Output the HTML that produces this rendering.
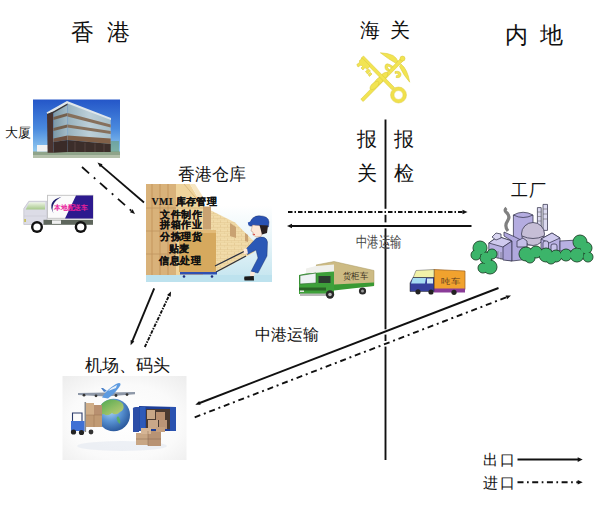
<!DOCTYPE html>
<html><head><meta charset="utf-8">
<style>
html,body{margin:0;padding:0;background:#fff;}
body{width:600px;height:515px;position:relative;overflow:hidden;font-family:"Liberation Serif",serif;color:#111;}
.t{position:absolute;white-space:nowrap;line-height:1;}
svg{position:absolute;left:0;top:0;}
</style></head><body>
<!-- bld -->
<svg width="600" height="515" viewBox="0 0 600 515">
<defs>
<linearGradient id="sky" x1="0" y1="0" x2="0" y2="1"><stop offset="0" stop-color="#2456c8"/><stop offset="0.5" stop-color="#4a8ade"/><stop offset="0.85" stop-color="#8cc4ee"/><stop offset="1" stop-color="#b0d8f0"/></linearGradient>
<linearGradient id="glassR" x1="0" y1="0" x2="1" y2="0"><stop offset="0" stop-color="#98b2be"/><stop offset="0.5" stop-color="#bccfd8"/><stop offset="1" stop-color="#a8c0ca"/></linearGradient>
<linearGradient id="glassL" x1="0" y1="0" x2="1" y2="0"><stop offset="0" stop-color="#7c98a6"/><stop offset="1" stop-color="#a2bac6"/></linearGradient>
</defs>
<rect x="33" y="99.5" width="87" height="58.5" fill="url(#sky)"/>
<rect x="33" y="151.5" width="87" height="6.5" fill="#8fa48a"/>
<rect x="33" y="155" width="87" height="3" fill="#b4c0aa"/>
<rect x="37" y="145" width="13" height="6.5" fill="#f2f2f2"/>
<rect x="100" y="141" width="19" height="11" fill="#6a9a6a" opacity="0.55"/>
<!-- dark tower left -->
<polygon points="47,113 53.4,110.5 53.4,152.8 47.6,152.8" fill="#4a3430"/>
<!-- left face glass -->
<polygon points="53.4,110.5 67.4,102 67.4,140 53.4,142" fill="url(#glassL)"/>
<polygon points="53.4,117 67.4,113 67.4,116 53.4,120" fill="#74604e"/>
<polygon points="53.4,128 67.4,124.5 67.4,127.5 53.4,131" fill="#74604e"/>
<polygon points="53.4,138.5 67.4,135.5 67.4,140 53.4,142" fill="#6e5040"/>
<polygon points="53.4,142 67.4,140 67.4,152 53.4,152.8" fill="#3a2b28"/>
<!-- right face -->
<polygon points="67.4,102 110.7,118.9 110.7,144 67.4,140" fill="url(#glassR)"/>
<polygon points="67.4,113 110.7,124.5 110.7,127.5 67.4,116.5" fill="#86705c"/>
<polygon points="67.4,124.5 110.7,131 110.7,134 67.4,127.5" fill="#86705c"/>
<polygon points="67.4,135.5 110.7,138.5 110.7,144 67.4,140" fill="#806048"/>
<polygon points="67.4,140 110.7,144 110.7,152 67.4,152" fill="#3c2e2a"/>
<path d="M75,142 v10 M85,143 v9 M95,143.5 v8.5 M104,144 v8" stroke="#5a4a44" stroke-width="0.8"/>
<!-- roof edge -->
<polygon points="46.5,112.5 67,101 111,118 111,120 67.4,103.5 53.4,111.5 47.5,114" fill="#dfe6ea"/>
<polygon points="47.5,114 53.4,111.5 67.4,103.5 67.4,105 53.4,113 47.5,115.5" fill="#3a3638"/>
</svg>
<!-- wh -->
<svg width="600" height="515" viewBox="0 0 600 515">
<defs>
<linearGradient id="whbg" x1="0" y1="0" x2="0" y2="1"><stop offset="0" stop-color="#ffffff"/><stop offset="0.22" stop-color="#ffffff"/><stop offset="0.6" stop-color="#e6f4f8"/><stop offset="1" stop-color="#c2e4ef"/></linearGradient>
<pattern id="brick" width="7" height="4.5" patternUnits="userSpaceOnUse"><rect width="7" height="4.5" fill="#f2dcaa"/><path d="M0,4.5 H7 M3.5,0 V2.25 M0,2.25 H7 M0,2.25 V4.5" stroke="#dcc088" stroke-width="0.5"/></pattern>
</defs>
<rect x="146" y="184" width="126" height="98" fill="url(#whbg)"/>
<!-- receding wall of boxes -->
<polygon points="203,206.5 235,222.6 254.5,242 254.5,252 222,270 203,272" fill="url(#brick)"/>
<rect x="203" y="206.5" width="8" height="23" fill="#c9a272"/>
<polygon points="230,223 236,227 236,238 230,236" fill="#c9a272"/>
<polygon points="245,233 248,235 248,242 245,241" fill="#c9a272"/>
<!-- big left stack -->
<rect x="146" y="184" width="30" height="92" fill="#d9b27a"/>
<path d="M152,184 V276 M160,184 V276 M168,184 V276" stroke="#c89c62" stroke-width="1.2"/>
<path d="M146,208 H176 M146,231 H176 M146,254 H176" stroke="#bf9560" stroke-width="0.8"/>
<polygon points="176,184 190,184 203,206.5 203,276 176,276" fill="#efd49c"/>
<polygon points="190,184 195,184 205,200 203,206.5" fill="#f6e6c2"/>
<path d="M176,208 H203 M176,231 H203 M176,254 H203" stroke="#d2b078" stroke-width="0.8"/>
<path d="M184,184 L203,206.5" stroke="#c8a46c" stroke-width="0.6"/>
<!-- front box on cart -->
<rect x="179" y="230" width="37" height="42" fill="#d6a95e"/>
<rect x="179" y="230" width="37" height="3" fill="#e2bb78"/>
<!-- floor -->
<rect x="146" y="275" width="126" height="7" fill="#bde2ee"/>
<!-- cart -->
<rect x="180" y="272" width="37" height="2.5" fill="#3050b0"/>
<circle cx="184" cy="276.5" r="1.3" fill="#203080"/><circle cx="212" cy="276.5" r="1.3" fill="#203080"/>
<path d="M215,266 L245,251 M216,272 L246,256" stroke="#2a3040" stroke-width="1.3"/>
<!-- worker -->
<path d="M249.5,226 Q250.5,216 259,215.8 Q268.5,215.8 269,222 L268.5,227 Z" fill="#2952b3" stroke="#1a2a60" stroke-width="0.4"/>
<path d="M247.8,222.5 L253,220.5 L253,224.5 L248.5,225.5 Z" fill="#2952b3"/>
<path d="M252.5,225 L251,231 L253,232 L252.8,235 Q256,238 261,236.5 L264,226 Z" fill="#fde8d8" stroke="#b07a60" stroke-width="0.4"/>
<path d="M253,234.2 L255,234.5" stroke="#d03030" stroke-width="0.9"/>
<path d="M259.5,225 L268,225.5 L267,233 L262,234.5 Z" fill="#2a2020"/>
<path d="M256,238.5 Q266,234.5 267.5,242 L267,256 L258,273 L251,271.5 L258,258 L256,250 L247.5,254.5 L244.8,250.3 Z" fill="#2a58b6" stroke="#1a2a60" stroke-width="0.4"/>
<path d="M243.5,249 L247,248.5 L248,253.5 L244,254 Z" fill="#fde8d8"/>
<path d="M250.5,271.5 L255,272.5 L254,276.5 L250,276 Z" fill="#fde8d8"/>
<path d="M244.5,276.5 L253.8,276 L254,280.5 L244.5,280.5 Q243.8,278 244.5,276.5 Z" fill="#1a1a1a"/>
</svg>
<!-- emb -->
<svg width="600" height="515" viewBox="0 0 600 515">
<g fill="#f2e452" stroke="#dccb3e" stroke-width="0.6" stroke-linejoin="round">
<!-- wings -->
<path d="M380.4,52.8 Q388,53 393,55.5 Q397,58 398,61.5 L395.5,63 Q389,59.5 380.4,52.8 Z"/>
<path d="M401,64 Q407.5,69 409.7,82.2 Q404,76 399.5,66.5 Z"/>
<!-- caduceus staff -->
<path d="M401.5,57.5 L404,60 L363.2,101.5 L360.8,99.2 Z"/>
<circle cx="402.5" cy="58.6" r="2.5"/>
<!-- snakes upper swirls -->
<path d="M393,66.5 Q386,61.5 385,66 Q384.5,71 389.5,71 L389,69 Q387,68.6 387.3,66.8 Q388.5,65 391.5,68 Z"/>
<path d="M395,71.5 Q400,70.5 401,74 Q401,78.5 396,77.5 L396.5,75.5 Q398.5,75.8 398.3,74.2 Q397.5,72.5 395,73.5 Z"/>
<!-- coils -->
<ellipse cx="383.5" cy="76.5" rx="5.5" ry="2.6" transform="rotate(-42 383.5 76.5)"/>
<ellipse cx="379" cy="81" rx="5.8" ry="2.8" transform="rotate(-42 379 81)"/>
<ellipse cx="374.5" cy="85.5" rx="5.5" ry="2.7" transform="rotate(-42 374.5 85.5)"/>
<!-- key shaft -->
<path d="M361,58.2 L363.5,56 L394.5,87.5 L392,89.8 Z"/>
<!-- key bit teeth -->
<path d="M359.5,60.5 L362.5,58.2 L370,66 L367,69.5 L365,67.5 L363,70 L361,68 L362.5,66.5 L361,65 L358,67 L356.8,64.5 L359.5,62.5 Z"/>
<path d="M365.5,71.5 L368.5,69 L370.5,71 L367.5,74 Z"/>
<path d="M368,74.5 L370.5,72.5 L372,74 L369.5,76.5 Z"/>
</g>
<circle cx="398.5" cy="95" r="6.2" fill="none" stroke="#f0e04c" stroke-width="3.4"/>
<circle cx="398.5" cy="95" r="8" fill="none" stroke="#dccb3e" stroke-width="0.5"/>
<circle cx="398.5" cy="95" r="4.4" fill="none" stroke="#dccb3e" stroke-width="0.4"/>
</svg>
<!-- gtrk -->
<svg width="600" height="515" viewBox="0 0 600 515">
<polygon points="316,265 334,261.5 374,270.5 374,285.5 334,289" fill="#cdbb84" stroke="#a89860" stroke-width="0.5"/>
<polygon points="306,268.5 316,266 334,264.5 334,272 306,274" fill="#f0f0ec"/>
<polygon points="299,275 306,273.5 334,271.5 334,293 326,295.5 299,294" fill="#3ea03a"/>
<polygon points="300,275.5 316,273 316,283 300,284" fill="#eef2f4" stroke="#2a6a2a" stroke-width="0.6"/>
<rect x="318.5" y="276" width="12" height="7" fill="#2c3a30"/>
<rect x="299" y="287.5" width="27" height="3" fill="#2a6226"/>
<rect x="300" y="290.5" width="4" height="1.5" fill="#e8e8e8"/>
<polygon points="334,284.5 374,282.5 374,286 334,290.5" fill="#3a9a34"/>
<rect x="300" y="293.5" width="30" height="2.5" fill="#b8b8b8"/>
<circle cx="330" cy="294.5" r="4.2" fill="#2a2a2a"/><circle cx="330" cy="294.5" r="1.8" fill="#bbb"/>
<circle cx="362.5" cy="291" r="3.6" fill="#2a2a2a"/><circle cx="362.5" cy="291" r="1.5" fill="#999"/>
<text x="343" y="279" font-size="8.5" fill="#3a3020" font-family="Liberation Serif" textLength="25" lengthAdjust="spacingAndGlyphs">货柜车</text>
</svg>
<!-- otrk -->
<svg width="600" height="515" viewBox="0 0 600 515">
<polygon points="434,269.5 465,271 465,289.5 434,289.5" fill="#f1a22e" stroke="#9a6020" stroke-width="0.7"/>
<rect x="434" y="288.5" width="31" height="4" fill="#8a3c98"/>
<polygon points="416,270.5 434,269.5 434,278 413,278" fill="#f2f2a8" stroke="#555" stroke-width="0.5"/>
<polygon points="413,277.5 434,277.5 434,291.5 410,291.5 410,283" fill="#37409c" stroke="#222" stroke-width="0.5"/>
<polygon points="413,278 426,278 425,283.5 411,283.5" fill="#a6dcf2"/>
<rect x="427" y="278.5" width="6" height="5" fill="#cfe8f4"/>
<circle cx="418" cy="291.8" r="2.6" fill="#222"/><circle cx="431" cy="292" r="2.6" fill="#222"/><circle cx="454" cy="292.3" r="2.6" fill="#222"/>
<text x="441" y="283.5" font-size="8" fill="#5a3a20" font-family="Liberation Serif" textLength="19" lengthAdjust="spacingAndGlyphs">吨车</text>
</svg>
<!-- fac -->
<svg width="600" height="515" viewBox="0 0 600 515">
<g stroke="#34344c" stroke-width="0.75" stroke-linejoin="round">
<path d="M508,231 Q504,226 507.5,221 Q511,216 506,212 Q504,210 506.5,208" fill="none" stroke="#808080" stroke-width="3.2"/>
<!-- chimneys -->
<rect x="537.4" y="207.6" width="3.8" height="23" fill="#dcdaf0"/>
<rect x="543" y="204.4" width="4.5" height="26" fill="#dcdaf0"/>
<path d="M537.4,212 h3.8 M537.4,216.5 h3.8 M537.4,221 h3.8 M543,209 h4.5 M543,214 h4.5 M543,219 h4.5" stroke="#666" stroke-width="0.6"/>
<!-- tall cylinder -->
<path d="M513.4,215 Q523,209.5 533,215 L533,245 L513.4,245 Z" fill="#b4ace0"/>
<path d="M513.4,215 Q523,220 533,215" fill="none"/>
<!-- dome -->
<circle cx="533" cy="234" r="11.5" fill="#c6bed6"/>
<path d="M522,236 Q533,241 544,236" fill="none"/>
<!-- left complex -->
<path d="M488.8,243 L498,236.5 L512,241 L512,261 L488.8,256 Z" fill="#b8b0e2"/>
<path d="M488.8,243 L498,236.5 L512,241 L503,247 Z" fill="#cfcaee"/>
<path d="M492,249 v8 M495,250 v8 M498,251 v8 M501,252 v8" stroke="#555" stroke-width="0.5"/>
<path d="M503,247 L512,241 L512,261 L503,260 Z" fill="#aaa2d8"/>
<path d="M492,237 L496,233 L501,234 L501,238 L496,240 Z" fill="#d8d4f0"/>
<path d="M504,232 L515,237 L526.7,243 L526.7,259.3 L512,261 L512,241 L504,236 Z" fill="#b0a8de"/>
<path d="M517,241 L523,238 L527,241 L527,247 L517,247 Z" fill="#c4bee8"/>
<!-- right complex -->
<path d="M541,239 L552,233 L560,238 L560,251 L541,251 Z" fill="#b8b0e2"/>
<path d="M541,239 L552,233 L560,238 L549,243 Z" fill="#cfcaee"/>
<rect x="543" y="241" width="5.5" height="11" rx="2" fill="#c8c2ea"/>
<rect x="551" y="244" width="6" height="8" rx="2" fill="#c8c2ea"/>
<path d="M560,241 L578,240 L578,251 L560,251 Z" fill="#b8b0e2"/>
</g>
<g fill="#3cb46a" stroke="#1a3a22" stroke-width="0.9">
<circle cx="480" cy="248" r="7"/><circle cx="476" cy="255" r="5"/><circle cx="486" cy="258" r="6"/><circle cx="490" cy="267" r="7"/><circle cx="483" cy="268" r="5"/><circle cx="492" cy="254" r="5"/>
<circle cx="526" cy="254" r="7"/><circle cx="536" cy="252" r="6"/><circle cx="546" cy="255" r="7"/><circle cx="556" cy="256" r="6"/><circle cx="566" cy="255" r="6"/><circle cx="530" cy="258" r="5"/><circle cx="551" cy="259" r="5"/>
<circle cx="580" cy="242" r="7"/><circle cx="586" cy="248" r="6"/><circle cx="577" cy="255" r="7"/><circle cx="588" cy="257" r="5"/>
</g>
<g fill="#3cb46a">
<circle cx="480" cy="248" r="6.3"/><circle cx="476" cy="255" r="4.3"/><circle cx="486" cy="258" r="5.3"/><circle cx="490" cy="267" r="6.3"/><circle cx="483" cy="268" r="4.3"/><circle cx="492" cy="254" r="4.3"/>
<circle cx="526" cy="254" r="6.3"/><circle cx="536" cy="252" r="5.3"/><circle cx="546" cy="255" r="6.3"/><circle cx="556" cy="256" r="5.3"/><circle cx="566" cy="255" r="5.3"/><circle cx="530" cy="258" r="4.3"/><circle cx="551" cy="259" r="4.3"/>
<circle cx="580" cy="242" r="6.3"/><circle cx="586" cy="248" r="5.3"/><circle cx="577" cy="255" r="6.3"/><circle cx="588" cy="257" r="4.3"/>
</g>
</svg>
<!-- air -->
<svg width="600" height="515" viewBox="0 0 600 515">
<defs>
<radialGradient id="airbg" cx="0.5" cy="0.55" r="0.75"><stop offset="0" stop-color="#ffffff"/><stop offset="0.6" stop-color="#fafafa"/><stop offset="1" stop-color="#ececec"/></radialGradient>
<radialGradient id="globe" cx="0.4" cy="0.35" r="0.75"><stop offset="0" stop-color="#b4d8f4"/><stop offset="0.45" stop-color="#5a94d4"/><stop offset="1" stop-color="#1f4a8e"/></radialGradient>
<linearGradient id="cont" x1="0" y1="0" x2="1" y2="1"><stop offset="0" stop-color="#4aa848"/><stop offset="1" stop-color="#c8d070"/></linearGradient>
</defs>
<rect x="62.5" y="376" width="124" height="84" fill="url(#airbg)"/>
<!-- reflection -->
<ellipse cx="122" cy="446" rx="45" ry="5" fill="#e8ecf2" opacity="0.8"/>
<!-- airplane -->
<path d="M78,393 L135,392 L135,394.2 L106,396.5 L78,395 Z" fill="#8e98a8"/>
<circle cx="84" cy="395.2" r="1.4" fill="#333"/><circle cx="96" cy="395.8" r="1.4" fill="#333"/><circle cx="116" cy="395.5" r="1.4" fill="#333"/><circle cx="127" cy="394.6" r="1.4" fill="#333"/>
<path d="M102,397.5 Q106,390 116,384 Q121,381.5 120.5,385 Q117,391.5 108,398.5 Z" fill="#5c9ae0"/>
<path d="M108,391 Q112,387 117,385 L116,388 Z" fill="#e8f0f8"/>
<path d="M104,392 L101,388 L103,388 L107,391 Z" fill="#4a80c8"/>
<!-- globe -->
<circle cx="113.7" cy="415" r="16.3" fill="url(#globe)"/>
<path d="M99,410 Q101,401 110,399.5 Q119,399 123,404 Q125,410 120,412 Q116,416 112,413 Q107,417 104,414 Q100,415 99,410 Z" fill="url(#cont)" opacity="0.95"/>
<path d="M118,416 Q121,419 120,424 Q117,422 116.5,418 Z" fill="#5ab450" opacity="0.8"/>
<!-- forklift -->
<rect x="84.5" y="402" width="1.6" height="30" fill="#8a8a8a"/>
<rect x="86" y="403" width="8" height="12" fill="#d0ae88"/>
<rect x="86" y="415" width="16" height="12" fill="#c09a74"/>
<rect x="94" y="405" width="8" height="10" fill="#b89070"/>
<path d="M86,415 h16 M94,415 v12" stroke="#9a7050" stroke-width="0.5"/>
<rect x="71" y="421" width="13.5" height="10" fill="#4070d4"/>
<path d="M72.5,421 V413 H82 V421" fill="none" stroke="#2a3a6a" stroke-width="1.1"/>
<circle cx="73.5" cy="432" r="2.6" fill="#222"/><circle cx="81.5" cy="432.5" r="2.6" fill="#222"/><circle cx="91" cy="432" r="2.4" fill="#333"/>
<!-- truck/container -->
<path d="M133,410 Q132,407 136,407 L139,407 L139,432 L133,432 Z" fill="#2c4ea8"/>
<polygon points="139,406 176,407 176,431 139,431" fill="#1c3e98"/>
<rect x="146" y="409" width="24" height="20" fill="#4a3a30"/>
<rect x="147" y="410" width="8" height="9" fill="#c7a787"/><rect x="156" y="412" width="9" height="8" fill="#b89070"/><rect x="148" y="420" width="10" height="9" fill="#c9a889"/><rect x="159" y="420" width="8" height="9" fill="#bb9577"/>
<rect x="170" y="407" width="6" height="24" fill="#2a52b0"/>
<rect x="139.5" y="407" width="6" height="24" fill="#2d5ab8"/>
<!-- boxes on ground -->
<rect x="136" y="433" width="12" height="12" fill="#c8a684"/><rect x="148" y="431" width="13" height="15" fill="#b89374"/><rect x="141" y="428" width="10" height="6" fill="#d5b595"/><rect x="156" y="427" width="9" height="5" fill="#c4a080"/>
<path d="M136,439 h25 M148,431 v15" stroke="#8a6a50" stroke-width="0.5"/>
</svg>
<!-- trk -->
<svg width="600" height="515" viewBox="0 0 600 515">
<defs>
<linearGradient id="win" x1="0" y1="0" x2="0" y2="1"><stop offset="0" stop-color="#eef4e6"/><stop offset="1" stop-color="#a6c88a"/></linearGradient>
</defs>
<rect x="47.5" y="195.3" width="45.5" height="23" fill="#fbfbfb" stroke="#c0c0c0" stroke-width="0.9"/>
<polygon points="76,195.5 93,195.5 93,218.5 65,218.5" fill="#2d1a8e"/>
<path d="M61.5,196.8 Q46.5,201 53.5,213.5 Q49.5,203.5 61.5,196.8 Z" fill="#1e1e6a"/>
<text x="54" y="210" font-size="6.8" fill="#e8209a" font-family="Liberation Sans" font-weight="bold" textLength="34" lengthAdjust="spacingAndGlyphs">本地配送车</text>
<path d="M28.8,201.3 L47,201.3 L47,224.5 L23.8,224.5 L23.8,208.6 Z" fill="#dcdce6" stroke="#c0c0c8" stroke-width="0.7"/>
<polygon points="29.2,202.3 45,202.3 45,209.5 25.8,209.5" fill="url(#win)"/>
<path d="M24,216 H46" stroke="#c4c4cc" stroke-width="0.5"/>
<rect x="24.2" y="219" width="1.8" height="3" fill="#c8c060"/>
<rect x="43.5" y="219.8" width="49.5" height="5" fill="#5e665c"/>
<rect x="52" y="220.3" width="9" height="3.6" fill="#f0f0f0"/>
<circle cx="37" cy="227" r="6" fill="#111"/><circle cx="37" cy="227" r="3.6" fill="#fff"/>
<circle cx="80.7" cy="227" r="6" fill="#111"/><circle cx="80.7" cy="227" r="3.6" fill="#fff"/>
</svg>
<svg width="600" height="515" viewBox="0 0 600 515">
<line x1="385.50" y1="119.50" x2="385.50" y2="208.80" stroke="#111" stroke-width="1.9"/>
<line x1="385.50" y1="214.80" x2="385.50" y2="222.40" stroke="#111" stroke-width="1.9"/>
<line x1="385.50" y1="228.40" x2="385.50" y2="329.30" stroke="#111" stroke-width="1.9"/>
<line x1="385.50" y1="334.60" x2="385.50" y2="341.00" stroke="#111" stroke-width="1.9"/>
<line x1="385.50" y1="346.60" x2="385.50" y2="460.00" stroke="#111" stroke-width="1.9"/>
<line x1="288.00" y1="212.00" x2="463.50" y2="212.00" stroke="#111" stroke-width="2" stroke-dasharray="4.5 2 1.5 2"/>
<polygon points="467.50,212.00 462.50,214.30 462.50,209.70" fill="#111"/>
<line x1="471.50" y1="226.00" x2="291.00" y2="226.00" stroke="#111" stroke-width="2"/>
<polygon points="287.00,226.00 292.00,223.70 292.00,228.30" fill="#111"/>
<line x1="144.00" y1="202.50" x2="100.53" y2="165.11" stroke="#111" stroke-width="1.8"/>
<polygon points="97.50,162.50 102.59,164.24 99.99,167.28" fill="#111"/>
<line x1="82.00" y1="167.00" x2="132.01" y2="211.35" stroke="#111" stroke-width="1.8" stroke-dasharray="9.5 6.3 2 6.2"/>
<polygon points="135.00,214.00 129.93,212.18 132.59,209.19" fill="#111"/>
<line x1="154.20" y1="288.30" x2="132.13" y2="341.60" stroke="#111" stroke-width="1.9"/>
<polygon points="130.60,345.30 130.66,339.92 134.36,341.45" fill="#111"/>
<line x1="144.80" y1="347.00" x2="169.29" y2="295.02" stroke="#111" stroke-width="1.9" stroke-dasharray="3.5 1.2 1.5 1.2"/>
<polygon points="171.00,291.40 170.68,296.78 167.06,295.07" fill="#111"/>
<line x1="498.50" y1="288.00" x2="199.03" y2="403.26" stroke="#111" stroke-width="1.9"/>
<polygon points="195.30,404.70 199.25,401.04 200.68,404.77" fill="#111"/>
<line x1="194.70" y1="417.30" x2="507.27" y2="296.94" stroke="#111" stroke-width="1.9" stroke-dasharray="6 3.8 2 3.8"/>
<polygon points="511.00,295.50 507.05,299.16 505.62,295.43" fill="#111"/>
<line x1="517.50" y1="459.60" x2="578.70" y2="459.60" stroke="#111" stroke-width="2"/>
<polygon points="582.70,459.60 577.70,461.90 577.70,457.30" fill="#111"/>
<line x1="517.50" y1="482.30" x2="578.70" y2="482.30" stroke="#111" stroke-width="2" stroke-dasharray="6 3.5 1.7 3.5"/>
<polygon points="582.70,482.30 577.70,484.60 577.70,480.00" fill="#111"/>
</svg>
<div class="t" style="left:71px;top:21px;font-size:23px;">香</div>
<div class="t" style="left:107px;top:21px;font-size:23px;">港</div>
<div class="t" style="left:359.5px;top:20.5px;font-size:19.5px;">海</div>
<div class="t" style="left:389.5px;top:20.5px;font-size:19.5px;">关</div>
<div class="t" style="left:504.5px;top:23.5px;font-size:23px;">内</div>
<div class="t" style="left:539.5px;top:23.5px;font-size:23px;">地</div>
<div class="t" style="left:357px;top:129.5px;font-size:19.5px;">报</div>
<div class="t" style="left:357px;top:163.5px;font-size:19.5px;">关</div>
<div class="t" style="left:394px;top:129.5px;font-size:19.5px;">报</div>
<div class="t" style="left:394px;top:163.5px;font-size:19.5px;">检</div>
<div class="t" style="left:178px;top:166.5px;font-size:16.5px;">香港仓库</div>
<div class="t" style="left:5px;top:127px;font-size:12.5px;">大厦</div>
<div class="t" style="left:511px;top:182px;font-size:17px;letter-spacing:1.4px">工厂</div>
<div class="t" style="left:85px;top:358px;font-size:16.5px;">机场、码头</div>
<div class="t" style="left:254.5px;top:327px;font-size:16px;">中港运输</div>
<div class="t" style="left:356px;top:234.5px;font-size:15px;color:#444;transform:scaleX(0.76);transform-origin:0 0">中港运输</div>
<div class="t" style="left:483px;top:453px;font-size:15px;letter-spacing:1.5px">出口</div>
<div class="t" style="left:483px;top:475.5px;font-size:15px;letter-spacing:1.5px">进口</div>
<div class="t" style="left:151.5px;top:197px;font-size:10px;font-weight:bold;letter-spacing:0.3px;-webkit-text-stroke:0.15px #111">VMI 库存管理</div>
<div class="t" style="left:160px;top:210px;font-size:10px;font-weight:bold;letter-spacing:0.6px;-webkit-text-stroke:0.15px #111">文件制作</div>
<div class="t" style="left:160px;top:220px;font-size:10px;font-weight:bold;letter-spacing:0.6px;-webkit-text-stroke:0.15px #111">拼箱作业</div>
<div class="t" style="left:160px;top:232px;font-size:10px;font-weight:bold;letter-spacing:0.6px;-webkit-text-stroke:0.15px #111">分拣理货</div>
<div class="t" style="left:168.5px;top:244px;font-size:10px;font-weight:bold;letter-spacing:0.6px;-webkit-text-stroke:0.15px #111">贴麦</div>
<div class="t" style="left:159px;top:255.5px;font-size:10px;font-weight:bold;letter-spacing:0.6px;-webkit-text-stroke:0.15px #111">信息处理</div>
</body></html>
